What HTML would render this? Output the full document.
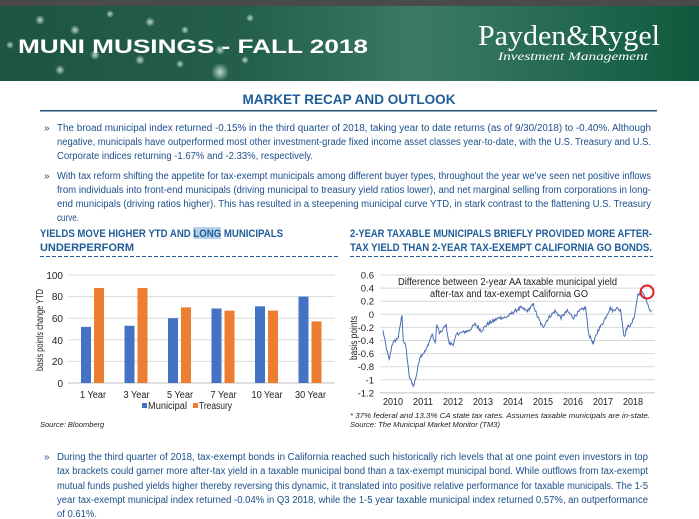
<!DOCTYPE html>
<html><head><meta charset="utf-8"><style>
html,body{margin:0;padding:0;background:#fff;width:699px;height:519px;overflow:hidden}
svg{display:block}
.b{font-family:"Liberation Sans Narrow","Liberation Sans",sans-serif;font-size:10px;fill:#1b4f8a}
.h{font-family:"Liberation Sans Narrow","Liberation Sans",sans-serif;font-size:11px;font-weight:bold;fill:#1f5d99}
.t{font-family:"Liberation Sans Narrow","Liberation Sans",sans-serif;font-size:10px;fill:#222}
.f{font-family:"Liberation Sans Narrow","Liberation Sans",sans-serif;font-size:7.5px;font-style:italic;fill:#222}
</style></head><body>
<svg width="699" height="519" viewBox="0 0 699 519" xmlns="http://www.w3.org/2000/svg">
<defs>
<linearGradient id="g" x1="0" y1="0" x2="1" y2="0">
<stop offset="0" stop-color="#1d5442"/><stop offset="0.35" stop-color="#245f4a"/><stop offset="0.6" stop-color="#3b7a64"/><stop offset="1" stop-color="#0f5a3e"/>
</linearGradient>
<radialGradient id="gl" cx="0.5" cy="0.5" r="0.5"><stop offset="0" stop-color="#cfe8dc" stop-opacity="0.9"/><stop offset="1" stop-color="#cfe8dc" stop-opacity="0"/></radialGradient>
</defs>
<rect x="0" y="0" width="699" height="6" fill="#4a4a4a"/>
<rect x="0" y="6" width="699" height="75" fill="url(#g)"/>
<g fill="url(#gl)">
<circle cx="40" cy="20" r="5"/><circle cx="75" cy="30" r="5"/><circle cx="110" cy="14" r="4"/><circle cx="150" cy="22" r="5"/><circle cx="185" cy="30" r="4"/><circle cx="95" cy="55" r="5"/><circle cx="140" cy="60" r="5"/><circle cx="220" cy="50" r="5"/><circle cx="250" cy="18" r="4"/><circle cx="10" cy="45" r="4"/><circle cx="60" cy="70" r="5"/><circle cx="220" cy="72" r="9"/><circle cx="180" cy="64" r="4"/><circle cx="245" cy="60" r="4"/>
</g>
<text x="18" y="53" font-family="Liberation Sans" font-weight="bold" font-size="19" fill="#fff" textLength="350" lengthAdjust="spacingAndGlyphs">MUNI MUSINGS - FALL 2018</text>
<text x="478" y="45" font-family="Liberation Serif" font-size="28" fill="#fff" textLength="182" lengthAdjust="spacingAndGlyphs">Payden&amp;Rygel</text>
<text x="498" y="60" font-family="Liberation Serif" font-style="italic" font-size="12" fill="#fff" textLength="150" lengthAdjust="spacingAndGlyphs">Investment Management</text>

<text x="349" y="104" text-anchor="middle" font-family="Liberation Sans Narrow,Liberation Sans,sans-serif" font-weight="bold" font-size="14" fill="#1f5d99" textLength="213" lengthAdjust="spacingAndGlyphs">MARKET RECAP AND OUTLOOK</text>
<rect x="40" y="110" width="617" height="1.5" fill="#1f4e79"/>

<g class="b">
<text x="44" y="131">»</text><text x="57" y="131" textLength="594" lengthAdjust="spacingAndGlyphs">The broad municipal index returned -0.15% in the third quarter of 2018, taking year to date returns (as of 9/30/2018) to -0.40%. Although</text>
<text x="57" y="145" textLength="594" lengthAdjust="spacingAndGlyphs">negative, municipals have outperformed most other investment-grade fixed income asset classes year-to-date, with the U.S. Treasury and U.S.</text>
<text x="57" y="159" textLength="256" lengthAdjust="spacingAndGlyphs">Corporate indices returning -1.67% and -2.33%, respectively.</text>
<text x="44" y="179">»</text><text x="57" y="179" textLength="594" lengthAdjust="spacingAndGlyphs">With tax reform shifting the appetite for tax-exempt municipals among different buyer types, throughout the year we’ve seen net positive inflows</text>
<text x="57" y="193" textLength="594" lengthAdjust="spacingAndGlyphs">from individuals into front-end municipals (driving municipal to treasury yield ratios lower), and net marginal selling from corporations in long-</text>
<text x="57" y="207" textLength="594" lengthAdjust="spacingAndGlyphs">end municipals (driving ratios higher). This has resulted in a steepening municipal curve YTD, in stark contrast to the flattening U.S. Treasury</text>
<text x="57" y="221" textLength="22" lengthAdjust="spacingAndGlyphs">curve.</text>
</g>

<rect x="193" y="227" width="28" height="12" fill="#b7d3ea"/>
<g class="h">
<text x="40" y="237" textLength="243" lengthAdjust="spacingAndGlyphs">YIELDS MOVE HIGHER YTD AND LONG MUNICIPALS</text>
<text x="40" y="251" textLength="94" lengthAdjust="spacingAndGlyphs">UNDERPERFORM</text>
<text x="350" y="237" textLength="302" lengthAdjust="spacingAndGlyphs">2-YEAR TAXABLE MUNICIPALS BRIEFLY PROVIDED MORE AFTER-</text>
<text x="350" y="251" textLength="302" lengthAdjust="spacingAndGlyphs">TAX YIELD THAN 2-YEAR TAX-EXEMPT CALIFORNIA GO BONDS.</text>
</g>
<line x1="40" y1="256.5" x2="338" y2="256.5" stroke="#1f5d99" stroke-width="1" stroke-dasharray="4,2"/>
<line x1="350" y1="256.5" x2="653" y2="256.5" stroke="#1f5d99" stroke-width="1" stroke-dasharray="4,2"/>

<g stroke="#d9d9d9" stroke-width="1">
<line x1="68" y1="275" x2="335" y2="275"/><line x1="68" y1="296.6" x2="335" y2="296.6"/><line x1="68" y1="318.2" x2="335" y2="318.2"/><line x1="68" y1="339.8" x2="335" y2="339.8"/><line x1="68" y1="361.4" x2="335" y2="361.4"/>
</g>
<line x1="68" y1="383" x2="335" y2="383" stroke="#bfbfbf"/>
<g class="t" text-anchor="end">
<text x="63" y="279">100</text><text x="63" y="300">80</text><text x="63" y="322">60</text><text x="63" y="344">40</text><text x="63" y="365">20</text><text x="63" y="387">0</text>
</g>
<text class="t" transform="translate(43,330) rotate(-90)" text-anchor="middle" font-size="9.5" textLength="82" lengthAdjust="spacingAndGlyphs">basis points change YTD</text>
<g id="bars"></g>
<g class="t" text-anchor="middle">
<text x="93" y="398" textLength="26" lengthAdjust="spacingAndGlyphs">1 Year</text><text x="136.5" y="398" textLength="26" lengthAdjust="spacingAndGlyphs">3 Year</text><text x="180" y="398" textLength="26" lengthAdjust="spacingAndGlyphs">5 Year</text><text x="223.5" y="398" textLength="26" lengthAdjust="spacingAndGlyphs">7 Year</text><text x="267" y="398" textLength="31" lengthAdjust="spacingAndGlyphs">10 Year</text><text x="310.5" y="398" textLength="31" lengthAdjust="spacingAndGlyphs">30 Year</text>
</g>
<rect x="142" y="403" width="5" height="5" fill="#4472c4"/><text class="t" x="148" y="409" textLength="39" lengthAdjust="spacingAndGlyphs">Municipal</text>
<rect x="193" y="403" width="5" height="5" fill="#ed7d31"/><text class="t" x="199" y="409" textLength="33" lengthAdjust="spacingAndGlyphs">Treasury</text>
<text class="f" x="40" y="427">Source: Bloomberg</text>

<g id="grid2" stroke="#d9d9d9"></g>
<g class="t" text-anchor="end" id="ylab2"></g>
<text class="t" transform="translate(357,338) rotate(-90)" text-anchor="middle" textLength="44" lengthAdjust="spacingAndGlyphs">basis points</text>
<g class="t" text-anchor="middle">
<text x="393" y="405" textLength="20" lengthAdjust="spacingAndGlyphs">2010</text><text x="423" y="405" textLength="20" lengthAdjust="spacingAndGlyphs">2011</text><text x="453" y="405" textLength="20" lengthAdjust="spacingAndGlyphs">2012</text><text x="483" y="405" textLength="20" lengthAdjust="spacingAndGlyphs">2013</text><text x="513" y="405" textLength="20" lengthAdjust="spacingAndGlyphs">2014</text><text x="543" y="405" textLength="20" lengthAdjust="spacingAndGlyphs">2015</text><text x="573" y="405" textLength="20" lengthAdjust="spacingAndGlyphs">2016</text><text x="603" y="405" textLength="20" lengthAdjust="spacingAndGlyphs">2017</text><text x="633" y="405" textLength="20" lengthAdjust="spacingAndGlyphs">2018</text>
</g>
<text class="t" x="398" y="285" textLength="219" lengthAdjust="spacingAndGlyphs">Difference between 2-year AA taxable municipal yield</text>
<text class="t" x="430" y="297" textLength="158" lengthAdjust="spacingAndGlyphs">after-tax and tax-exempt California GO</text>
<polyline id="ser" fill="none" stroke="#4a6fb5" stroke-width="1" points=""/>
<circle cx="647" cy="292" r="6.5" fill="none" stroke="#e02020" stroke-width="2"/>
<text class="f" x="350" y="418" textLength="300" lengthAdjust="spacingAndGlyphs">* 37% federal and 13.3% CA state tax rates. Assumes taxable municipals are in-state.</text>
<text class="f" x="350" y="427" textLength="150" lengthAdjust="spacingAndGlyphs">Source: The Municipal Market Monitor (TM3)</text>

<g class="b">
<text x="44" y="460">»</text><text x="57" y="460" textLength="591" lengthAdjust="spacingAndGlyphs">During the third quarter of 2018, tax-exempt bonds in California reached such historically rich levels that at one point even investors in top</text>
<text x="57" y="474" textLength="591" lengthAdjust="spacingAndGlyphs">tax brackets could garner more after-tax yield in a taxable municipal bond than a tax-exempt municipal bond. While outflows from tax-exempt</text>
<text x="57" y="489" textLength="591" lengthAdjust="spacingAndGlyphs">mutual funds pushed yields higher thereby reversing this dynamic, it translated into positive relative performance for taxable municipals. The 1-5</text>
<text x="57" y="503" textLength="591" lengthAdjust="spacingAndGlyphs">year tax-exempt municipal index returned -0.04% in Q3 2018, while the 1-5 year taxable municipal index returned 0.57%, an outperformance</text>
<text x="57" y="517" textLength="40" lengthAdjust="spacingAndGlyphs">of 0.61%.</text>
</g>
</svg>
<script>
var NS="http://www.w3.org/2000/svg";
function el(p,t,a){var e=document.createElementNS(NS,t);for(var k in a)e.setAttribute(k,a[k]);p.appendChild(e);return e;}
var bars=document.getElementById("bars");
var mu=[52,53,60,69,71,80],tr=[88,88,70,67,67,57];
for(var i=0;i<6;i++){var c=93+43.5*i;
el(bars,"rect",{x:c-12,y:383-mu[i]*1.08,width:10,height:mu[i]*1.08,fill:"#4472c4"});
el(bars,"rect",{x:c+1,y:383-tr[i]*1.08,width:10,height:tr[i]*1.08,fill:"#ed7d31"});}
var g2=document.getElementById("grid2"),yl=document.getElementById("ylab2");
var labs=["0.6","0.4","0.2","0","-0.2","-0.4","-0.6","-0.8","-1","-1.2"];
for(var j=0;j<10;j++){var y=275+j*13.1;
el(g2,"line",{x1:380,y1:y,x2:655,y2:y,stroke:j==9?"#bfbfbf":"#d9d9d9"});
var t=el(yl,"text",{x:374,y:y+3.5,"font-size":"9.5"});t.textContent=labs[j];}
var k=[[2010,-0.25],[2010.1,-0.5],[2010.2,-0.7],[2010.3,-0.45],[2010.4,-0.4],[2010.5,-0.35],[2010.55,-0.2],[2010.62,0.0],[2010.66,-0.4],[2010.75,-0.5],[2010.85,-0.95],[2011,-1.1],[2011.1,-0.9],[2011.2,-0.65],[2011.4,-0.55],[2011.6,-0.3],[2011.7,-0.45],[2011.75,-0.15],[2011.85,-0.3],[2012,-0.2],[2012.05,-0.15],[2012.15,-0.45],[2012.3,-0.45],[2012.4,-0.3],[2012.8,-0.25],[2013,-0.15],[2013.2,-0.25],[2013.4,-0.15],[2013.6,-0.1],[2013.8,-0.05],[2014,-0.05],[2014.3,0.05],[2014.5,0.1],[2014.7,0.05],[2014.9,0.15],[2015,0.0],[2015.2,-0.2],[2015.4,-0.05],[2015.6,0.05],[2015.8,-0.05],[2016,0.05],[2016.2,-0.05],[2016.4,0.05],[2016.6,0.1],[2016.7,-0.3],[2016.85,-0.45],[2017,-0.25],[2017.2,-0.1],[2017.4,0.1],[2017.5,0.05],[2017.6,0.1],[2017.75,0.05],[2017.85,-0.35],[2017.95,-0.2],[2018.1,-0.15],[2018.2,0.0],[2018.3,0.3],[2018.45,0.35],[2018.55,0.25],[2018.65,0.1],[2018.75,0.02]];
var s=12345;function r(){s=(s*1103515245+12345)%2147483648;return s/2147483648-0.5;}
var pts=[];
for(var tt=2010;tt<=2018.75;tt+=0.02){var a=0;while(a<k.length-2&&k[a+1][0]<tt)a++;
var p=k[a],q=k[a+1],f=(tt-p[0])/(q[0]-p[0]);f=Math.max(0,Math.min(1,f));
var v=p[1]+(q[1]-p[1])*f+r()*0.05;
pts.push((383+(tt-2010)*30.7).toFixed(1)+","+(314.3-v*65.5).toFixed(1));}
document.getElementById("ser").setAttribute("points",pts.join(" "));
</script>
</body></html>
